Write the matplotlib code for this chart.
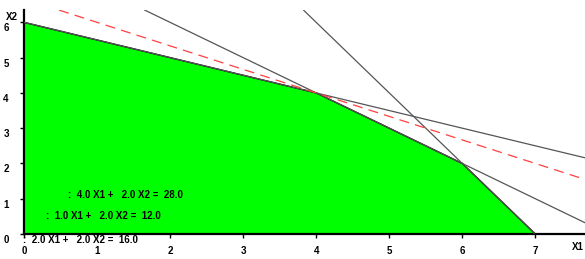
import matplotlib
matplotlib.use('Agg')
import matplotlib.pyplot as plt
import matplotlib.transforms as mtransforms
import numpy as np

# constraints a*x1 + b*x2 = c
con_a = [4.0, 1.0, 2.0]
con_b = [2.0, 2.0, 2.0]
con_c = [28.0, 12.0, 16.0]
# where each label sits (data coords)
label_x = [0.6, 0.3, -0.02]
label_y = [1.1, 0.5, -0.17]

# objective line (dashed)
obj_a, obj_b, obj_c = 2.0, 3.0, 20.0

# feasible region corners
region_x1 = [0, 0, 4, 6, 7]
region_x2 = [0, 6, 4, 2, 0]

x_ticks = [0, 1, 2, 3, 4, 5, 6, 7]
y_ticks = [0, 1, 2, 3, 4, 5, 6]

plt.rcParams['font.family'] = ['Liberation Sans', 'DejaVu Sans']

fig = plt.figure(figsize=(5.85, 2.59), dpi=100)
ax = fig.add_axes([24/585, 25/259, 561/585, 224/259])
xmax, ymax = 7.68, 6.35
ax.set_xlim(0, xmax)
ax.set_ylim(0, ymax)

ax.fill(region_x1, region_x2, facecolor='#00ff00', edgecolor='black', lw=1.0, zorder=2)

xs = np.linspace(0, xmax, 400)
for a, b, c in zip(con_a, con_b, con_c):
    ys = (c - a*xs) / b
    ok = (ys >= 0) & (ys <= ymax)
    ax.plot(xs[ok], ys[ok], color='#555555', lw=0.9, zorder=3)

ys = (obj_c - obj_a*xs) / obj_b
ok = (ys >= 0) & (ys <= ymax)
ax.plot(xs[ok], ys[ok], color='#ff4040', lw=0.9, ls=(0, (8, 5)), zorder=4)

for a, b, c, tx, ty in zip(con_a, con_b, con_c, label_x, label_y):
    ax.text(tx, ty, f':  {a:.1f} X1 +   {b:.1f} X2 =  {c:.1f}', fontsize=7,
            fontweight='bold', ha='left', va='center', zorder=5, clip_on=False)

for s in ['top', 'right']:
    ax.spines[s].set_visible(False)
ax.spines['left'].set_linewidth(1.6)
ax.spines['bottom'].set_linewidth(1.6)

ax.set_xticks(x_ticks)
ax.set_yticks(y_ticks)
ax.tick_params(length=3, width=1, labelsize=7)
ax.tick_params(axis='x', pad=6)
ax.tick_params(axis='y', pad=8)
for lab in ax.get_xticklabels() + ax.get_yticklabels():
    lab.set_fontweight('bold')
off = mtransforms.ScaledTranslation(0, -5/100, fig.dpi_scale_trans)
for lab in ax.get_yticklabels():
    lab.set_transform(lab.get_transform() + off)

fig.text(12/585, 1 - 17/259, 'X2', fontsize=7, fontweight='bold', ha='center', va='center')
fig.text(578/585, 1 - 247/259, 'X1', fontsize=7, fontweight='bold', ha='center', va='center')

fig.savefig('out.png', dpi=100)
